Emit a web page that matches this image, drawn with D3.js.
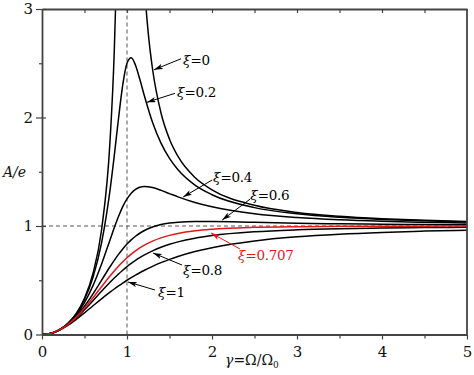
<!DOCTYPE html>
<html>
<head>
<meta charset="utf-8">
<script src="https://cdn.jsdelivr.net/npm/d3@7"></script>
<style>
  body { margin: 0; background: #fff; }
</style>
</head>
<body>
<svg width="474" height="375"></svg>
<script>
// frequency ratio grid shared by the damped curves
var gammaGrid = [0, 0.1, 0.2, 0.3, 0.4, 0.5, 0.6, 0.7, 0.8, 0.85, 0.9, 0.95, 1.0, 1.05, 1.1, 1.15,
                 1.2, 1.3, 1.4, 1.5, 1.6, 1.8, 2.0, 2.5, 3.0, 3.5, 4.0, 4.5, 5.0];

// xi = 0, two branches (goes off the top near gamma = 1)
var gammaUndampedLeft = [0, 0.1, 0.2, 0.3, 0.4, 0.5, 0.6, 0.7, 0.8, 0.85, 0.875, 0.9];
var ampUndampedLeft = [0, 0.0101, 0.0417, 0.0989, 0.1905, 0.3333, 0.5625, 0.9608, 1.7778, 2.6036, 3.2667, 4.263];
var gammaUndampedRight = [1.1, 1.15, 1.2, 1.25, 1.3, 1.4, 1.5, 1.6, 1.8, 2.0, 2.5, 3.0, 3.5, 4.0, 4.5, 5.0];
var ampUndampedRight = [5.76, 4.1008, 3.2727, 2.7778, 2.4493, 2.0417, 1.8, 1.641, 1.4464, 1.3333, 1.1905, 1.125, 1.0889, 1.0667, 1.0519, 1.0417];

var amp02 = [0, 0.0101, 0.0415, 0.0981, 0.1871, 0.3221, 0.5267, 0.8422, 1.3287, 1.6462, 1.9898, 2.3005, 2.5, 2.5503, 2.482, 2.3541,
             2.2114, 1.956, 1.7635, 1.6228, 1.5182, 1.377, 1.2883, 1.1694, 1.1126, 1.0806, 1.0607, 1.0474, 1.0381];
var amp04 = [0, 0.0101, 0.0411, 0.0956, 0.178, 0.2941, 0.45, 0.6469, 0.8716, 0.9837, 1.0877, 1.1779, 1.25, 1.3029, 1.3374, 1.3566,
             1.3636, 1.3541, 1.3287, 1.2985, 1.2686, 1.2167, 1.1765, 1.1125, 1.0776, 1.0566, 1.0432, 1.034, 1.0275];
var amp06 = [0, 0.01, 0.0404, 0.092, 0.1654, 0.2603, 0.3737, 0.4986, 0.6242, 0.6835, 0.7387, 0.7888, 0.8333, 0.8721, 0.9053, 0.9332,
             0.9563, 0.9907, 1.013, 1.0267, 1.0348, 1.0412, 1.0412, 1.0336, 1.0259, 1.0201, 1.0159, 1.0128, 1.0106];
var amp0707 = [0, 0.01, 0.04, 0.0896, 0.158, 0.2425, 0.3387, 0.44, 0.539, 0.5856, 0.6294, 0.67, 0.7071, 0.7407, 0.7708, 0.7976,
               0.8214, 0.8606, 0.8908, 0.9138, 0.9315, 0.9555, 0.9701, 0.9874, 0.9939, 0.9967, 0.9981, 0.9988, 0.9992];
var amp08 = [0, 0.01, 0.0395, 0.0875, 0.1515, 0.228, 0.312, 0.3982, 0.4813, 0.5205, 0.5577, 0.5925, 0.625, 0.655, 0.6826, 0.7079,
             0.731, 0.7712, 0.8043, 0.8315, 0.8539, 0.888, 0.9119, 0.9469, 0.9647, 0.9748, 0.9811, 0.9853, 0.9882];
var amp10 = [0, 0.0099, 0.0385, 0.0826, 0.1379, 0.2, 0.2647, 0.3289, 0.3902, 0.4194, 0.4475, 0.4744, 0.5, 0.5244, 0.5475, 0.5694,
             0.5902, 0.6283, 0.6622, 0.6923, 0.7191, 0.7642, 0.8, 0.8621, 0.9, 0.9245, 0.9412, 0.9529, 0.9615];

// labels: text, arrow head on the curve (gamma, A)
var labelNames = ["0", "0.2", "0.4", "0.6", "0.707", "0.8", "1"];
var labelGamma = [1.318, 1.235, 1.66, 2.12, 1.988, 1.306, 1.012];
var labelAmp = [2.44, 2.14, 1.267, 1.055, 0.936, 0.751, 0.484];

var xTicks = [0, 1, 2, 3, 4, 5];
var yTicks = [0, 1, 2, 3];

var serif = "DejaVu Serif";

// The svg
var svg = d3.select("svg"),
	width = +svg.attr("width"),
	height = +svg.attr("height");

var margin = {top: 9, right: 7, bottom: 40.5, left: 42};
var x = d3.scaleLinear().domain([0, 5]).range([margin.left, width - margin.right]);
var y = d3.scaleLinear().domain([0, 3]).range([height - margin.bottom, margin.top]);

var axisColor = "#444";
var red = "#e3161c";

svg.append("defs").append("clipPath").attr("id", "plot")
	.append("rect")
	.attr("x", x(0)).attr("y", y(3))
	.attr("width", x(5) - x(0)).attr("height", y(0) - y(3));

svg.append("defs").selectAll("marker")
	.data([["arrBlack", "#000"], ["arrRed", red]])
	.enter().append("marker")
	.attr("id", d => d[0])
	.attr("viewBox", "0 0 10 6")
	.attr("refX", 10).attr("refY", 3)
	.attr("markerWidth", 9).attr("markerHeight", 5.4)
	.attr("markerUnits", "userSpaceOnUse")
	.attr("orient", "auto")
	.append("path")
	.attr("d", "M0,0 L10,3 L0,6 L2.5,3 Z")
	.attr("fill", d => d[1]);

// dashed guide lines
svg.append("line")
	.attr("x1", x(1)).attr("x2", x(1)).attr("y1", y(0)).attr("y2", y(3))
	.attr("stroke", "#555").attr("stroke-width", 1).attr("stroke-dasharray", "4,3");
svg.append("line")
	.attr("x1", x(0)).attr("x2", x(5)).attr("y1", y(1)).attr("y2", y(1))
	.attr("stroke", "#555").attr("stroke-width", 1).attr("stroke-dasharray", "4,3");

// curves
var line = d3.line()
	.x(d => x(d[0]))
	.y(d => y(d[1]))
	.curve(d3.curveMonotoneX);

var series = [
	{g: gammaUndampedLeft, a: ampUndampedLeft, color: "#000"},
	{g: gammaUndampedRight, a: ampUndampedRight, color: "#000"},
	{g: gammaGrid, a: amp02, color: "#000"},
	{g: gammaGrid, a: amp04, color: "#000"},
	{g: gammaGrid, a: amp06, color: "#000"},
	{g: gammaGrid, a: amp08, color: "#000"},
	{g: gammaGrid, a: amp10, color: "#000"},
	{g: gammaGrid, a: amp0707, color: red}
];

svg.append("g")
	.attr("clip-path", "url(#plot)")
	.selectAll("path")
	.data(series)
	.enter().append("path")
	.attr("d", s => line(s.g.map((g, i) => [g, s.a[i]])))
	.attr("fill", "none")
	.attr("stroke", s => s.color)
	.attr("stroke-width", 1.5);

// annotations: tail offset from the arrow head, in pixels
var tailDx = [27, 28, 29, 28, 29, 29, 27];
var tailDy = [-11, -9, -17, -21, 16, 12, 8];
var textDx = [29, 30, 30, 28, 27, 30, 30];
var textDy = [-5, -5, -15, -20, 27, 22, 15];

var ann = svg.append("g");
labelNames.forEach(function(name, i) {
	var hx = x(labelGamma[i]), hy = y(labelAmp[i]);
	var isRed = name === "0.707";
	var col = isRed ? red : "#000";
	ann.append("line")
		.attr("x1", hx + tailDx[i]).attr("y1", hy + tailDy[i])
		.attr("x2", hx).attr("y2", hy)
		.attr("stroke", col).attr("stroke-width", 1)
		.attr("marker-end", isRed ? "url(#arrRed)" : "url(#arrBlack)");
	var t = ann.append("text")
		.attr("x", hx + textDx[i]).attr("y", hy + textDy[i])
		.attr("font-family", serif)
		.attr("font-size", 13.5).attr("fill", col);
	t.append("tspan").attr("font-style", "italic").text("ξ");
	t.append("tspan").attr("letter-spacing", -0.3).text("=" + name);
});

// axes
var xMinor = d3.range(0.5, 5, 1);
var yMinor = d3.range(0.5, 3, 1);

// bottom
var gb = svg.append("g").attr("transform", "translate(0," + y(0) + ")");
gb.call(d3.axisBottom(x).tickValues(xTicks).tickSize(5).tickSizeOuter(0).tickFormat(d3.format("d")));
svg.append("g").attr("transform", "translate(0," + y(0) + ")")
	.call(d3.axisBottom(x).tickValues(xMinor).tickSize(4).tickSizeOuter(0).tickFormat(""))
	.select(".domain").remove();

// top, ticks inside
var gt = svg.append("g").attr("transform", "translate(0," + y(3) + ")");
gt.call(d3.axisBottom(x).tickValues(d3.range(0.5, 5, 0.5)).tickSize(4).tickSizeOuter(0).tickFormat(""));

// left
var gl = svg.append("g").attr("transform", "translate(" + x(0) + ",0)");
gl.call(d3.axisLeft(y).tickValues(yTicks).tickSize(6).tickSizeOuter(0).tickFormat(d3.format("d")));
gl.selectAll(".tick line").attr("x2", -6).attr("x1", 4);
svg.append("g").attr("transform", "translate(" + x(0) + ",0)")
	.call(d3.axisLeft(y).tickValues(yMinor).tickSize(3).tickSizeOuter(0).tickFormat(""))
	.select(".domain").remove();

// right, no ticks
svg.append("line")
	.attr("class", "domain")
	.attr("x1", x(5)).attr("x2", x(5)).attr("y1", y(0)).attr("y2", y(3));

svg.selectAll(".domain").attr("stroke", axisColor).attr("stroke-width", 1.8);
svg.selectAll(".tick line").attr("stroke", axisColor).attr("stroke-width", 1.2);
gb.attr("font-family", serif).attr("font-size", 15);
gl.attr("font-family", serif).attr("font-size", 15);
svg.selectAll(".tick text").attr("fill", "#111");
gb.selectAll(".tick text").attr("dy", "0.95em");
gl.selectAll(".tick text").attr("x", -9);

// axis titles
svg.append("text")
	.attr("x", 3).attr("y", 177)
	.attr("font-family", serif)
	.attr("font-size", 14).attr("font-style", "italic").attr("fill", "#111")
	.text("A/e");

var xt = svg.append("text")
	.attr("x", 225).attr("y", 365)
	.attr("font-family", serif)
	.attr("font-size", 14).attr("fill", "#111");
xt.append("tspan").attr("font-style", "italic").text("γ");
xt.append("tspan").text("=Ω/Ω");
xt.append("tspan").attr("font-size", 9).attr("dy", 3).text("0");
</script>
</body>
</html>
